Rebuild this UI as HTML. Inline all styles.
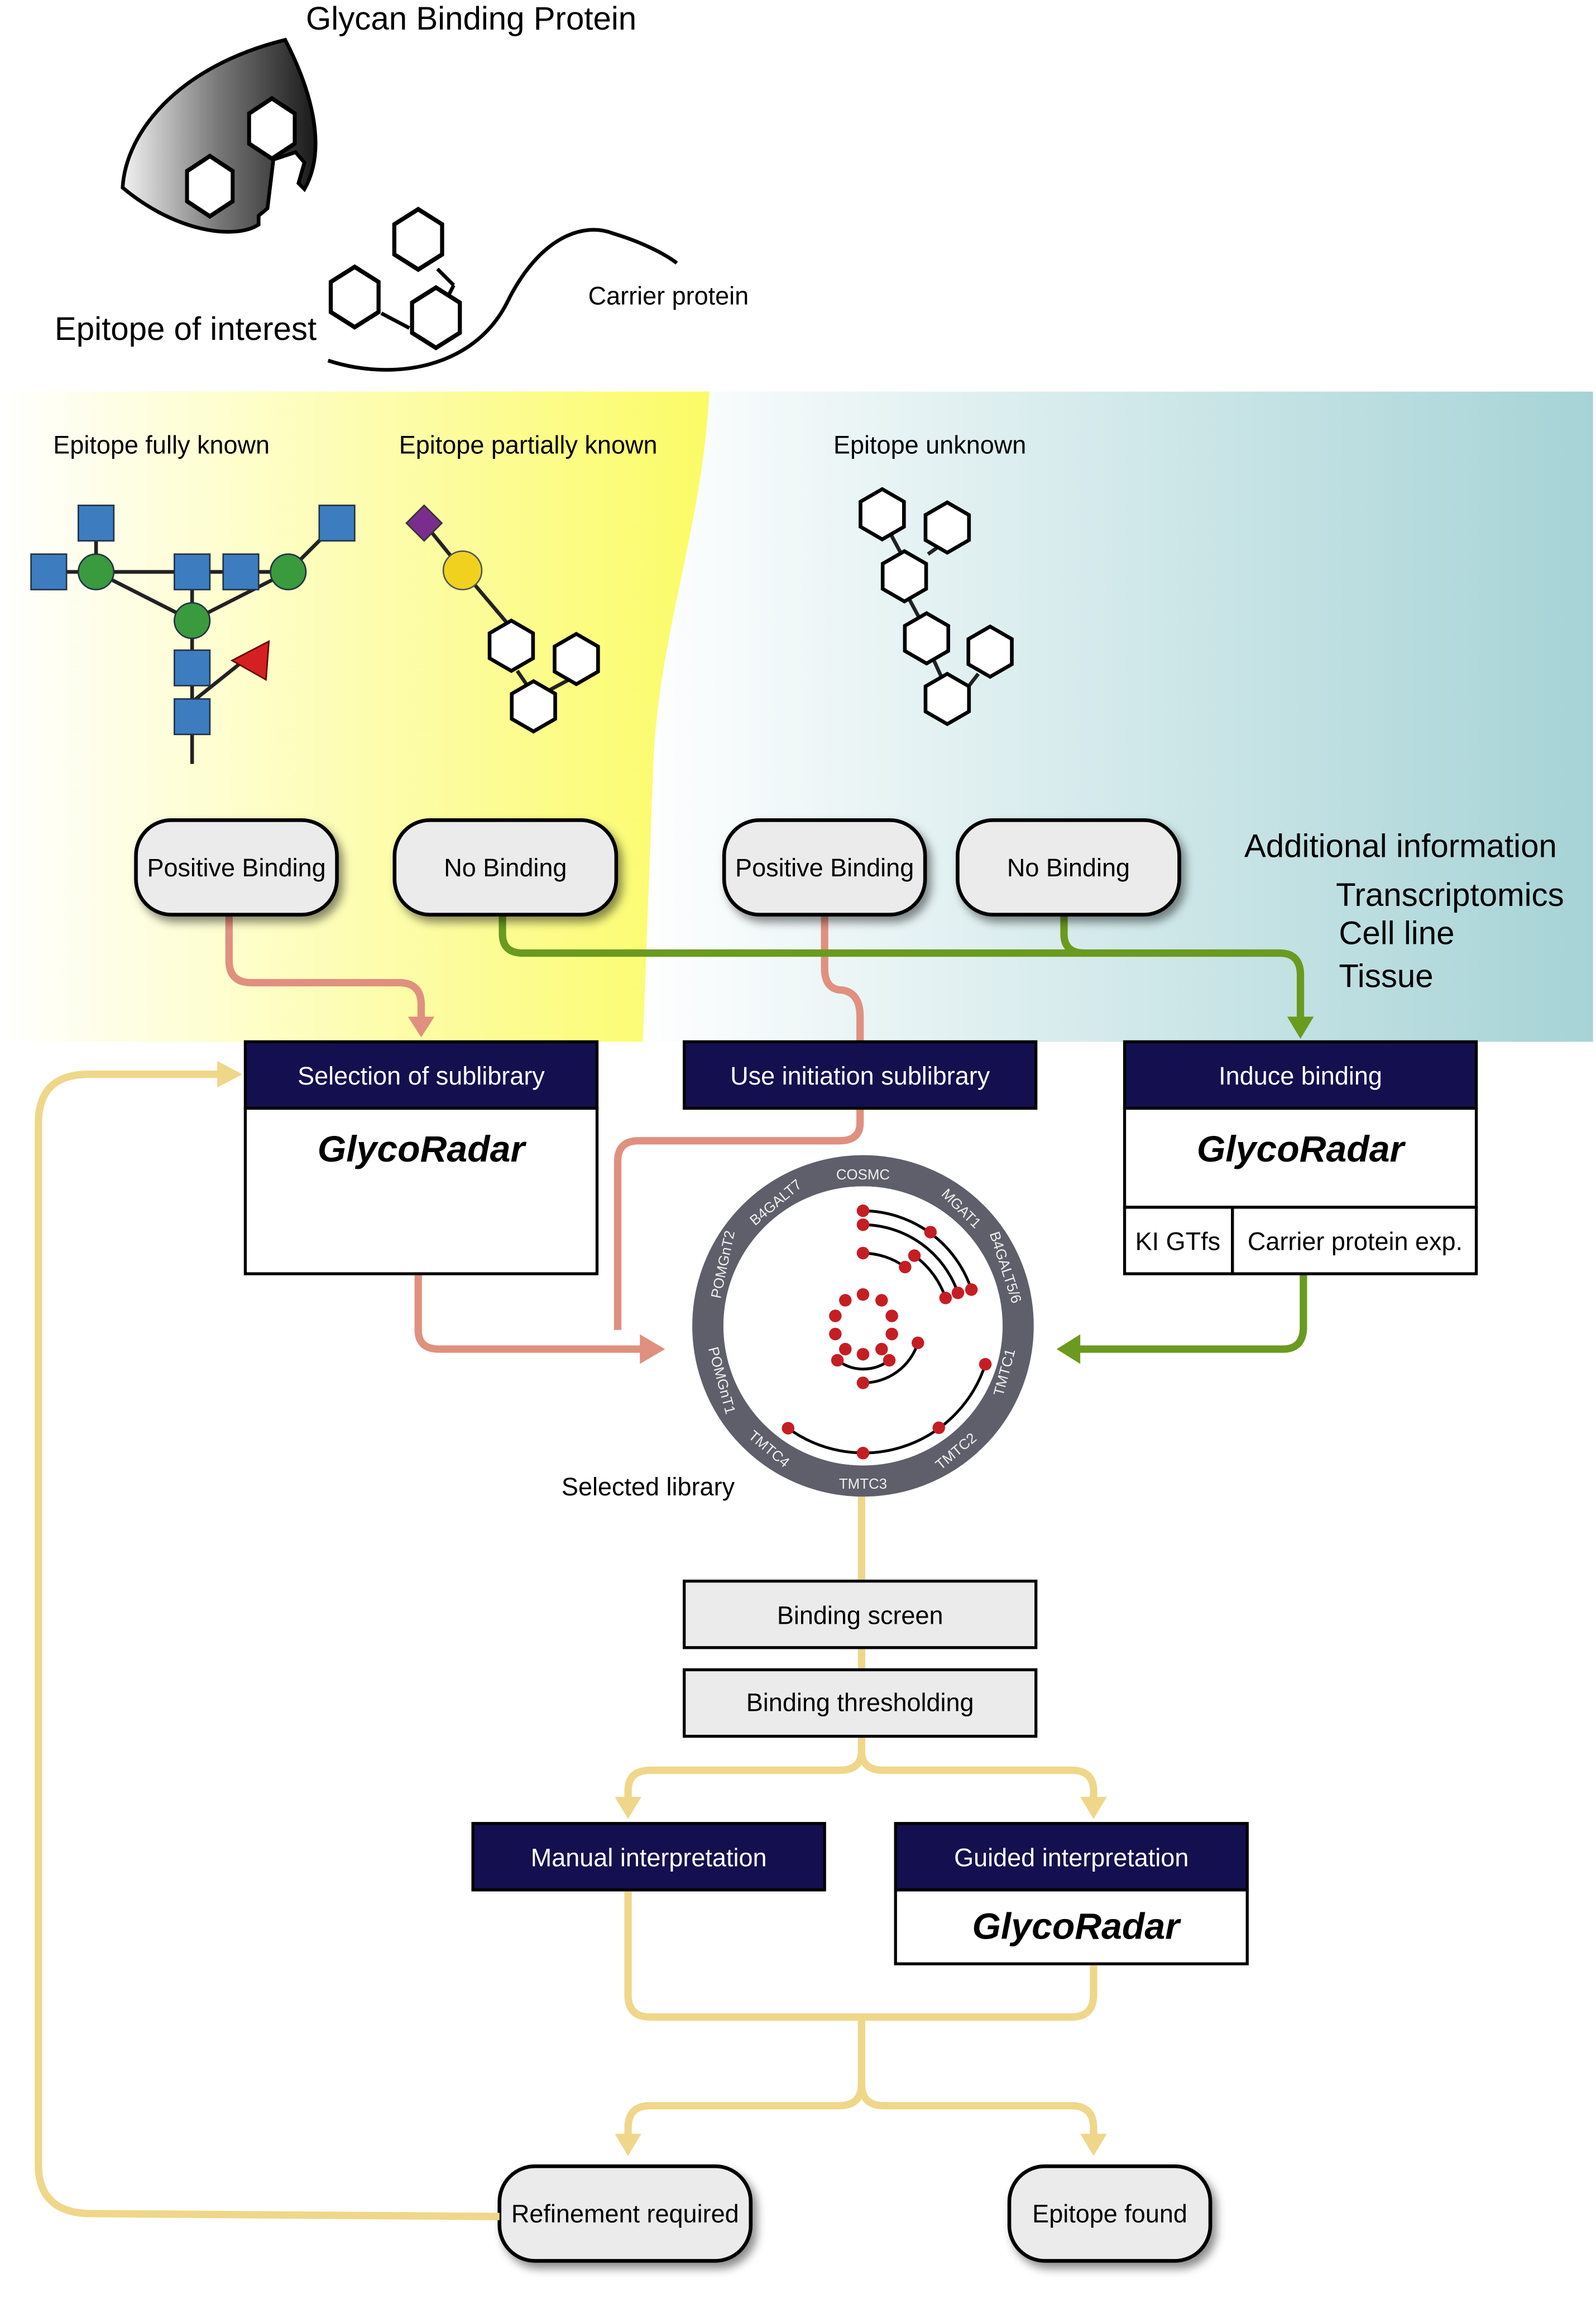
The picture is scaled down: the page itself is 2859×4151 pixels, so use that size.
<!DOCTYPE html>
<html><head><meta charset="utf-8"><style>html,body{margin:0;padding:0;background:#fff}svg{display:block}text{font-family:"Liberation Sans",sans-serif}</style></head><body>
<svg width="2859" height="4151" viewBox="0 0 1080 1568" preserveAspectRatio="none" xmlns="http://www.w3.org/2000/svg">
<defs>
<linearGradient id="gbp" x1="0" x2="1" y1="0" y2="0"><stop offset="0" stop-color="#f2f2f2"/><stop offset="0.5" stop-color="#777"/><stop offset="1" stop-color="#1a1a1a"/></linearGradient>
<linearGradient id="yel" x1="0" x2="1"><stop offset="0" stop-color="#ffffff"/><stop offset="1" stop-color="#fbfb66"/></linearGradient>
<linearGradient id="teal" x1="0" x2="1"><stop offset="0" stop-color="#ffffff"/><stop offset="1" stop-color="#a6d3d6"/></linearGradient>
<filter id="sh" x="-20%" y="-20%" width="150%" height="160%"><feDropShadow dx="3" dy="4" stdDeviation="3" flood-color="#000" flood-opacity="0.45"/></filter>
<g id="hx"><polygon points="0,-17 14.7,-8.5 14.7,8.5 0,17 -14.7,8.5 -14.7,-8.5" fill="#fff" stroke="#000" stroke-width="2.5"/></g>
<g id="sq"><rect x="-12" y="-12" width="24" height="24" fill="#3d7cbf" stroke="#234" stroke-width="1"/></g>
<g id="gc"><circle r="12" fill="#3a9a3e" stroke="#234" stroke-width="1"/></g>
</defs>

<!-- header -->
<text x="207" y="20" font-size="22">Glycan Binding Protein</text>
<path d="M193,27 C210,60 222,100 206,128 L202,124 L206,110 L200,103 L185,108 L181,141 L175,146 L175,152 C160,162 120,158 83,127 C85,90 120,45 193,27 Z" fill="url(#gbp)" stroke="#000" stroke-width="2.5"/>
<g transform="translate(184,87) scale(1.05,1.2)"><use href="#hx"/></g>
<g transform="translate(142,126) scale(1.05,1.2)"><use href="#hx"/></g>
<text x="37" y="230" font-size="22">Epitope of interest</text>
<text x="398" y="206" font-size="17">Carrier protein</text>
<path d="M222,244 C265,258 320,250 343,205 C365,160 395,150 415,158 C435,164 450,172 458,178" fill="none" stroke="#000" stroke-width="2.5"/>
<line x1="296" y1="182" x2="307" y2="193" stroke="#000" stroke-width="2.5"/><line x1="307" y1="193" x2="295" y2="217" stroke="#000" stroke-width="2.5"/>
<line x1="258" y1="212" x2="277" y2="222" stroke="#000" stroke-width="2.5"/>
<g transform="translate(283,162) scale(1.1,1.2)"><use href="#hx"/></g>
<g transform="translate(240,201) scale(1.1,1.2)"><use href="#hx"/></g>
<g transform="translate(295,215) scale(1.1,1.2)"><use href="#hx"/></g>

<!-- backgrounds -->
<rect x="430" y="265" width="648" height="440" fill="url(#teal)"/>
<path d="M0,265 L480,265 C475,360 445,430 442,520 L435,705 L0,705 Z" fill="url(#yel)"/>

<text x="36" y="307" font-size="17">Epitope fully known</text>
<text x="270" y="307" font-size="17">Epitope partially known</text>
<text x="564" y="307" font-size="17">Epitope unknown</text>

<!-- fully known glycan -->
<g stroke="#222" stroke-width="2.5">
<line x1="33" y1="387" x2="195" y2="387"/><line x1="65" y1="354" x2="65" y2="387"/>
<line x1="228" y1="354" x2="195" y2="387"/>
<line x1="65" y1="387" x2="130" y2="420"/><line x1="195" y1="387" x2="130" y2="420"/>
<line x1="130" y1="387" x2="130" y2="517"/><line x1="130" y1="475" x2="165" y2="447"/>
</g>
<use href="#sq" x="65" y="354"/><use href="#sq" x="33" y="387"/><use href="#sq" x="130" y="387"/><use href="#sq" x="163" y="387"/><use href="#sq" x="228" y="354"/><use href="#sq" x="130" y="452"/><use href="#sq" x="130" y="485"/>
<use href="#gc" x="65" y="387"/><use href="#gc" x="195" y="387"/><use href="#gc" x="130" y="420"/>
<polygon points="157,447 182,434 180,460" fill="#d42020" stroke="#600" stroke-width="1"/>

<!-- partially known -->
<g stroke="#222" stroke-width="2.5"><line x1="287" y1="354" x2="313" y2="386"/><line x1="313" y1="386" x2="346" y2="425"/><line x1="350" y1="454" x2="361" y2="470"/><line x1="370" y1="468" x2="385" y2="460"/></g>
<polygon points="287,342 299,354 287,366 275,354" fill="#7b2d8e" stroke="#333" stroke-width="1"/>
<circle cx="313" cy="386" r="13" fill="#f0d21e" stroke="#555" stroke-width="1"/>
<use href="#hx" x="346" y="437"/><use href="#hx" x="361" y="478"/><use href="#hx" x="390" y="446"/>

<!-- unknown -->
<g stroke="#222" stroke-width="2.5"><line x1="603" y1="362" x2="610" y2="375"/><line x1="628" y1="375" x2="635" y2="370"/><line x1="615" y1="405" x2="622" y2="418"/><line x1="632" y1="447" x2="637" y2="458"/><line x1="655" y1="465" x2="662" y2="456"/></g>
<use href="#hx" x="597" y="348"/><use href="#hx" x="641" y="357"/><use href="#hx" x="612" y="390"/><use href="#hx" x="627" y="432"/><use href="#hx" x="641" y="473"/><use href="#hx" x="670" y="441"/>

<text x="842" y="580" font-size="22">Additional information</text>
<text x="904" y="613" font-size="22">Transcriptomics</text>
<text x="906" y="639" font-size="22">Cell line</text>
<text x="906" y="668" font-size="22">Tissue</text>

<!-- connectors salmon -->
<g fill="none" stroke="#e0907f" stroke-width="5">
<path d="M155,620 L155,650 Q155,665 170,665 L270,665 Q285,665 285,680 L285,690"/>
<path d="M558,620 L558,655 Q558,670 570,670 Q582,672 582,688 L582,760 Q582,772 568,772 L432,772 Q418,772 418,786 L418,900"/>
<path d="M283,862 L283,900 Q283,913 297,913 L435,913"/>
</g>
<polygon points="276,688 294,688 285,702" fill="#e0907f"/>
<polygon points="433,903 450,913 433,923" fill="#e0907f"/>
<!-- green -->
<g fill="none" stroke="#6a9a1f" stroke-width="5">
<path d="M340,620 L340,632 Q340,645 354,645 L866,645 Q880,645 880,660 L880,690"/>
<path d="M720,620 L720,632 Q720,645 734,645"/>
<path d="M882,862 L882,898 Q882,913 868,913 L730,913"/>
</g>
<polygon points="871,688 889,688 880,703" fill="#6a9a1f"/>
<polygon points="731,903 715,913 731,923" fill="#6a9a1f"/>

<!-- rounded boxes -->
<g filter="url(#sh)" fill="#ebebeb" stroke="#000" stroke-width="2.5">
<rect x="92" y="555" width="136" height="64" rx="24"/>
<rect x="267" y="555" width="150" height="64" rx="24"/>
<rect x="490" y="555" width="136" height="64" rx="24"/>
<rect x="648" y="555" width="150" height="64" rx="24"/>
<rect x="338" y="1466" width="170" height="64" rx="24"/>
<rect x="683" y="1466" width="136" height="64" rx="24"/>
</g>
<g font-size="17" text-anchor="middle">
<text x="160" y="593">Positive Binding</text>
<text x="342" y="593">No Binding</text>
<text x="558" y="593">Positive Binding</text>
<text x="723" y="593">No Binding</text>
<text x="423" y="1504">Refinement required</text>
<text x="751" y="1504">Epitope found</text>
</g>

<!-- navy boxes -->
<g fill="#140f4f" stroke="#000" stroke-width="2">
<rect x="166" y="705" width="238" height="45"/><rect x="463" y="705" width="238" height="45"/><rect x="761" y="705" width="238" height="45"/>
<rect x="320" y="1234" width="238" height="45"/><rect x="606" y="1234" width="238" height="45"/>
</g>
<g fill="#fff" font-size="17" text-anchor="middle">
<text x="285" y="734">Selection of sublibrary</text><text x="582" y="734">Use initiation sublibrary</text><text x="880" y="734">Induce binding</text>
<text x="439" y="1263">Manual interpretation</text><text x="725" y="1263">Guided interpretation</text>
</g>
<g fill="#fff" stroke="#000" stroke-width="2">
<rect x="166" y="750" width="238" height="112"/><rect x="761" y="750" width="238" height="67"/>
<rect x="761" y="817" width="73" height="45"/><rect x="834" y="817" width="165" height="45"/>
<rect x="606" y="1279" width="238" height="50"/>
</g>
<g font-size="25" font-weight="bold" font-style="italic" text-anchor="middle">
<text x="285" y="786">GlycoRadar</text><text x="880" y="786">GlycoRadar</text><text x="728" y="1312">GlycoRadar</text>
</g>
<text x="797" y="846" font-size="17" text-anchor="middle">KI GTfs</text>
<text x="917" y="846" font-size="17" text-anchor="middle">Carrier protein exp.</text>

<!-- yellow flow -->
<g fill="none" stroke="#efd78a" stroke-width="5">
<path d="M583,1010 L583,1070"/><path d="M583,1115 L583,1130"/>
<path d="M583,1175 L583,1185 Q583,1198 568,1198 L440,1198 Q425,1198 425,1212 L425,1218"/>
<path d="M583,1185 Q583,1198 598,1198 L725,1198 Q740,1198 740,1212 L740,1218"/>
<path d="M425,1280 L425,1350 Q425,1365 440,1365 L725,1365 Q740,1365 740,1350 L740,1330"/>
<path d="M583,1365 L583,1410 Q583,1425 568,1425 L440,1425 Q425,1425 425,1440 L425,1446"/>
<path d="M583,1410 Q583,1425 598,1425 L725,1425 Q740,1425 740,1440 L740,1446"/>
<path d="M338,1500 L60,1498 Q26,1497 26,1465 L26,760 Q26,727 60,727 L148,727"/>
</g>
<g fill="#efd78a">
<polygon points="416,1216 434,1216 425,1231"/><polygon points="731,1216 749,1216 740,1231"/>
<polygon points="416,1444 434,1444 425,1459"/><polygon points="731,1444 749,1444 740,1459"/>
<polygon points="147,718 164,727 147,736"/>
</g>
<g fill="#ebebeb" stroke="#000" stroke-width="2">
<rect x="463" y="1070" width="238" height="45"/><rect x="463" y="1130" width="238" height="45"/>
</g>
<text x="582" y="1099" font-size="17" text-anchor="middle">Binding screen</text>
<text x="582" y="1158" font-size="17" text-anchor="middle">Binding thresholding</text>

<text x="380" y="1012" font-size="17">Selected library</text>

<!-- circle -->
<g transform="translate(460.9,774.5) scale(0.1574)">
<circle cx="782" cy="780" r="667" fill="none" stroke="#5f5f6b" stroke-width="134"/>
<circle cx="782" cy="780" r="600" fill="#fff"/>
<g fill="none" stroke="#000" stroke-width="12">
<path d="M782,285 A495,495 0 0 1 1248,624"/>
<path d="M782,345 A435,435 0 0 1 1190,638"/>
<path d="M782,467 A313,313 0 0 1 963,527"/>
<path d="M1003,478 A375,375 0 0 1 1137,660"/>
<path d="M672,928 A184,184 0 0 0 895,928"/>
<path d="M1018,853 A246,246 0 0 1 782,1025"/>
<path d="M1308,945 A550,550 0 0 1 460,1220"/>
</g>
<g fill="#c41e24">
<circle cx="782" cy="285" r="27"/><circle cx="782" cy="345" r="27"/><circle cx="1072" cy="377" r="27"/><circle cx="782" cy="467" r="27"/><circle cx="1003" cy="478" r="27"/><circle cx="963" cy="527" r="27"/><circle cx="1137" cy="660" r="27"/><circle cx="1190" cy="638" r="27"/><circle cx="1248" cy="624" r="27"/>
<circle cx="782" cy="645" r="27"/><circle cx="706" cy="670" r="27"/><circle cx="862" cy="670" r="27"/><circle cx="663" cy="737" r="27"/><circle cx="906" cy="737" r="27"/><circle cx="663" cy="815" r="27"/><circle cx="906" cy="815" r="27"/><circle cx="706" cy="880" r="27"/><circle cx="862" cy="880" r="27"/><circle cx="782" cy="902" r="27"/><circle cx="672" cy="928" r="27"/><circle cx="895" cy="928" r="27"/><circle cx="1018" cy="853" r="27"/><circle cx="782" cy="1025" r="27"/><circle cx="1308" cy="945" r="27"/><circle cx="1108" cy="1218" r="27"/><circle cx="782" cy="1327" r="27"/><circle cx="460" cy="1220" r="27"/>
</g>
<g fill="#eee" font-size="62" text-anchor="middle">
<text x="782" y="150">COSMC</text>
<text transform="translate(1190,290) rotate(45)">MGAT1</text>
<text transform="translate(1375,535) rotate(72)">B4GALT5/6</text>
<text transform="translate(1410,985) rotate(-75)">TMTC1</text>
<text transform="translate(1195,1335) rotate(-40)">TMTC2</text>
<text x="782" y="1480">TMTC3</text>
<text transform="translate(365,1325) rotate(40)">TMTC4</text>
<text transform="translate(155,1020) rotate(75)">POMGnT1</text>
<text transform="translate(200,520) rotate(-78)">POMGnT2</text>
<text transform="translate(420,265) rotate(-40)">B4GALT7</text>
</g>
</g>
</svg>
</body></html>
